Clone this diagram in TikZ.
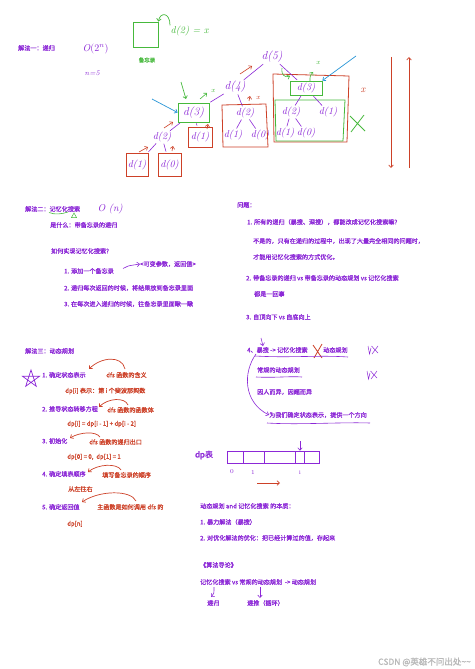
\documentclass[tikz,border=0pt]{standalone}
\usepackage{fontspec}
\newfontfamily\cjk{Noto Sans CJK SC}[FakeBold=1.2]
\usetikzlibrary{arrows.meta}
\definecolor{purp}{RGB}{140,40,215}
\definecolor{rd}{RGB}{205,65,40}
\definecolor{grn}{RGB}{70,185,60}
\definecolor{blu}{RGB}{40,150,215}
\definecolor{wm}{RGB}{185,185,185}
\tikzset{
  txt/.style={font=\cjk\fontsize{6.1}{7}\selectfont, text=purp, inner sep=0pt, anchor=west},
  rtxt/.style={txt, text=rd},
  hand/.style={font=\fontsize{10}{11}\selectfont\itshape, text=purp, inner sep=0.5pt},
  bighand/.style={hand, font=\fontsize{11.5}{12}\selectfont\itshape},
  smallhand/.style={hand, font=\fontsize{7}{8}\selectfont\itshape},
  gbox/.style={draw=grn, line width=0.8pt},
  rbox/.style={draw=rd, line width=0.8pt},
  edge/.style={purp, line width=0.6pt, shorten <=1pt, shorten >=1pt},
  arr/.style={-{Straight Barb[length=2.5pt,width=4.5pt]}, line width=0.7pt},
}
\begin{document}
\begin{tikzpicture}[x=1pt,y=-1pt]
\useasboundingbox[fill=white] (0,0) rectangle (474,669);

% ---------- Section 1 ----------
\node[txt] (s1) at (18,48) {解法一：递归};
\node[hand, anchor=west] (o2n) at (82,49) {O$(2^{n})$};
\node[smallhand, anchor=west] (nfive) at (84,73) {n=5};
\node[gbox, minimum size=25pt, inner sep=0pt] (memo) at (145.5,34.5) {};
\node[txt, anchor=center, text=grn, font=\cjk\fontsize{5.5}{6}\selectfont] (memolbl) at (147,60) {备忘录};
\node[hand, text=grn, anchor=west] (d2x) at (170,31) {d(2) = x};
\draw[grn, arr] (d2x.north west) .. controls (170,12) and (160,12) .. (memo.north east);

% tree nodes
\node[bighand] (n5) at (272,57) {d(5)};
\node[bighand] (n4) at (235,87) {d(4)};
\node[bighand, gbox, minimum width=31pt, minimum height=19pt] (n3l) at (193.5,112.5) {d(3)};
\node[hand, rbox, minimum width=24pt, minimum height=20pt] (n1l) at (200,137) {d(1)};
\node[hand] (n2l) at (162,137) {d(2)};
\node[hand, rbox, minimum width=22pt, minimum height=23pt] (n1ll) at (137,164.5) {d(1)};
\node[hand, rbox, minimum width=23pt, minimum height=23pt] (n0ll) at (169.5,164.5) {d(0)};
\node[hand] (n2m) at (245,113) {d(2)};
\node[hand] (n1m) at (233,135) {d(1)};
\node[hand] (n0m) at (260,135) {d(0)};
\node[hand, gbox, minimum width=32pt, minimum height=14pt] (n3r) at (306,88) {d(3)};
\node[hand] (n2r) at (291,112) {d(2)};
\node[hand] (n1r) at (328,112) {d(1)};
\node[hand] (n1rr) at (285,133) {d(1)};
\node[hand] (n0rr) at (306,133) {d(0)};

% subtree boxes
\draw[rbox] (222,105) -- (266,104) -- (268,147) -- (223,147) -- cycle;
\draw[rbox] (273,74) -- (349,76) -- (347,142) -- (274,142) -- cycle;
\draw[gbox] (275,100) -- (345,100) -- (343,141) -- (276,141) -- cycle;

% tree edges
\draw[edge] (n5) -- (n4);
\draw[edge] (n5) -- (n3r);
\draw[edge] (n4) -- (n3l);
\draw[edge] (n4) -- (n2m);
\draw[edge] (n2m) -- (n1m);
\draw[edge] (n2m) -- (n0m);
\draw[edge] (n3l) -- (n1l);
\draw[edge] (n3l) -- (n2l);
\draw[edge] (n2l) -- (n1ll);
\draw[edge] (n2l) -- (n0ll);
\draw[edge] (n3r) -- (n2r);
\draw[edge] (n3r) -- (n1r);
\draw[edge] (n2r) -- (n1rr);
\draw[edge] (n2r) -- (n0rr);

% return arrows (orange-red)
\draw[rd, arr, line width=0.6pt] (240,74) -- (252,66);
\draw[rd, arr, line width=0.6pt] (164,128) -- (173,122);
\draw[rd, arr, line width=0.6pt] (139,152) -- (148,147);
\draw[rd, arr, line width=0.6pt] (172,151) -- (173,146);
\draw[rd, arr, line width=0.6pt] (207,129) -- (208,124);
\draw[rd, arr, line width=0.6pt] (249,101) -- (250,96);
\node[smallhand, text=rd] (xm) at (258,98) {x};

% green marks
\coordinate (ga1) at (181,82);
\coordinate (ga2) at (186,99);
\draw[grn, arr] (ga1) -- (ga2);
\draw[grn, arr, line width=0.6pt] (200,99) -- (207,93);
\node[smallhand, text=grn] (xg1) at (213,91) {x};
\draw[grn, arr, line width=0.6pt] (310,81) .. controls (310,76) .. (313,72);
\node[smallhand, text=grn] (xg2) at (318,63) {x};
\draw[grn, arr, line width=0.6pt] (282,68) .. controls (281,75) and (285,78) .. (290,76);

% blue arrows
\coordinate (b1) at (152,99);
\draw[blu, arr] (b1) -- (n3l.west);
\coordinate (b2) at (356,56);
\draw[blu, arr] (b2) -- (n3r.north east);

% right marks
\node[hand, text=rd] (xr) at (363,90) {x};
\draw[grn, line width=0.8pt] (350,116) -- (365,131) (364,115) -- (351,132);

% vertical arrows
\coordinate (va1) at (391,57);
\coordinate (va2) at (391,168);
\draw[rd, arr] (va1) -- (va2);
\coordinate (vb1) at (409,168);
\coordinate (vb2) at (409,57);
\draw[rd, arr] (vb1) -- (vb2);

% ---------- Section 2 ----------
\node[txt] (s2) at (25,209) {解法二：记忆化搜索};
\draw[grn, line width=0.6pt] (49,212.5) .. controls (55,215) and (62,214) .. (68,212);
\draw[grn, line width=0.5pt] (71.5,217.5) -- (74,213) -- (76.5,217.5) -- cycle;
\node[hand, anchor=west] (on) at (97,209) {O (n)};
\node[txt] (q0) at (50,225) {是什么：带备忘录的递归};
\node[txt] (q1) at (51,251) {如何实现记忆化搜索?};
\node[txt] (q2) at (64,271) {1. 添加一个备忘录};
\node[txt] (q3) at (140,264) {<可变参数，返回值>};
\coordinate (qa) at (123,268.5);
\draw[purp, arr, line width=0.6pt] (qa) .. controls (127,266) .. (q3.west);
\node[txt] (q4) at (64,288) {2. 递归每次返回的时候，将结果放到备忘录里面};
\node[txt] (q5) at (64,304) {3. 在每次进入递归的时候，往备忘录里面瞅一瞅};

\node[txt] (p0) at (237,205) {问题：};
\node[txt] (p1) at (247,222) {1. 所有的递归（暴搜、深搜），都能改成记忆化搜索嘛?};
\node[txt] (p2) at (253,241) {不是的，只有在递归的过程中，出现了大量完全相同的问题时，};
\node[txt] (p3) at (253,257) {才能用记忆化搜索的方式优化。};
\node[txt] (p4) at (246,278) {2. 带备忘录的递归 vs 带备忘录的动态规划 vs 记忆化搜索};
\node[txt] (p5) at (254,294) {都是一回事};
\node[txt] (p6) at (246,317) {3. 自顶向下 vs 自底向上};

% ---------- Section 3 ----------
\node[txt] (s3) at (25,351) {解法三：动态规划};
\draw[purp, line width=0.7pt, shift={(31,379)}] (270:9) -- (54:9) -- (198:9) -- (342:9) -- (126:9) -- cycle;
\node[txt] (i1) at (42,375) {1. 确定状态表示};
\node[rtxt] (r1) at (106,375) {dfs 函数的含义};
\node[rtxt] (r1b) at (65,391) {dp[i] 表示：第 i 个斐波那契数};
\node[txt] (i2) at (42,409) {2. 推导状态转移方程};
\node[rtxt] (r2) at (107,410) {dfs 函数的函数体};
\node[rtxt] (r2b) at (67,424) {dp[i] = dp[i - 1] + dp[i - 2]};
\node[txt] (i3) at (42,441) {3. 初始化};
\node[rtxt] (r3) at (89,442) {dfs 函数的递归出口};
\node[rtxt] (r3b) at (67,457) {dp[0] = 0,\ \ dp[1] = 1};
\node[txt] (i4) at (42,474) {4. 确定填表顺序};
\node[rtxt] (r4) at (102,475) {填写备忘录的顺序};
\node[rtxt] (r4b) at (68,489) {从左往右};
\node[txt] (i5) at (42,507) {5. 确定返回值};
\node[rtxt] (r5) at (97,507) {主函数是如何调用 dfs 的};
\node[rtxt] (r5b) at (67,524) {dp[n]};

\coordinate (ra1) at (125,369);
\coordinate (ra2) at (128,405);
\coordinate (ra3) at (100,437);
\coordinate (ra4) at (121,470);
\coordinate (ra5) at (136,501);
\draw[rd, arr] (ra1) .. controls (122,355) and (101,357) .. (89,369);
\draw[rd, arr] (ra2) .. controls (125,397) and (108,398) .. (99,407);
\draw[rd, arr] (ra3) .. controls (96,431) and (80,432) .. (70,438);
\draw[rd, arr] (ra4) .. controls (117,463) and (98,464) .. (88,472);
\draw[rd, arr] (ra5) .. controls (131,490) and (100,490) .. (82,502);

% right part of section 3
\coordinate (sa1) at (261,338);
\coordinate (sa2) at (263,346);
\draw[purp, arr, line width=0.6pt] (sa1) -- (sa2);
\node[txt] (e1) at (247,350) {4、暴搜 -> 记忆化搜索};
\node[txt] (e2) at (323,350) {动态规划};
\draw[rd, line width=0.8pt] (313,345) -- (322,358) (322,344) -- (314,358);
\draw[purp, line width=0.6pt] (255,356) .. controls (290,358) and (320,355) .. (348,357);
\draw[purp, line width=0.5pt] (368,346) -- (369.5,354) -- (371,348) (371.5,346) -- (378,353) (378,346) -- (372,354);
\node[txt] (e3) at (257,370) {常规的动态规划};
\draw[purp, line width=0.6pt] (256,377) .. controls (275,378) and (290,376) .. (302,377);
\draw[purp, line width=0.5pt] (367,371) -- (368.5,379) -- (370,373) (370.5,371) -- (377,378) (377,371) -- (371,379);
\node[txt] (e4) at (257,392) {因人而异，因题而异};
\node[txt] (e5) at (269,415) {为我们确定状态表示，提供一个方向};
\draw[purp, line width=0.6pt] (267,423) .. controls (300,425) and (340,422) .. (370,423);
\coordinate (ca) at (256,354);
\draw[purp, arr, line width=0.6pt] (ca) .. controls (243,372) and (243,402) .. (e5.west);

% dp table
\node[txt, anchor=center] (dpb) at (204,455) {\fontsize{8}{9}\selectfont\itshape dp\cjk 表};
\node[draw=purp, line width=0.7pt, minimum width=92pt, minimum height=12pt, inner sep=0pt] (tbl) at (273,457) {};
\foreach \xx in {243,264,295,304} \draw[purp, line width=0.7pt] (\xx,451) -- (\xx,463);
\node[smallhand, font=\fontsize{6}{7}\selectfont] (l0) at (232,472) {0};
\node[smallhand, font=\fontsize{6}{7}\selectfont] (l1) at (253,472) {1};
\node[smallhand, font=\fontsize{6}{7}\selectfont] (li) at (300,473) {i};
\coordinate (ta) at (300,441);
\draw[purp, arr, line width=0.6pt] (ta) -- (tbl.north -| li);
\coordinate (rr1) at (257,483);
\coordinate (rr2) at (280,483);
\draw[rd, arr] (rr1) -- (rr2);

% bottom text
\node[txt] (b0) at (200,506) {动态规划 and 记忆化搜索 的本质：};
\node[txt] (b1t) at (200,522) {1. 暴力解法（暴搜）};
\node[txt] (b2t) at (200,538) {2. 对优化解法的优化：把已经计算过的值，存起来};
\node[txt] (b3) at (200,565) {《算法导论》};
\node[txt] (b4) at (200,582) {记忆化搜索 vs 常规的动态规划\ \ -> 动态规划};
\node[txt] (b5) at (207,603) {递归};
\node[txt] (b6) at (247,603) {递推（循环）};
\coordinate (da1) at (214,587);
\coordinate (da2) at (260,587);
\draw[purp, arr, line width=0.6pt] (da1) .. controls (214,594) .. (211,597);
\draw[purp, arr, line width=0.6pt] (da2) -- (260,598);

\node[font=\cjk\fontsize{8.5}{9}\selectfont, text=wm, anchor=east, inner sep=0pt] (wmk) at (471,662) {CSDN @英雄不问出处\textasciitilde\textasciitilde};
\end{tikzpicture}
\end{document}
